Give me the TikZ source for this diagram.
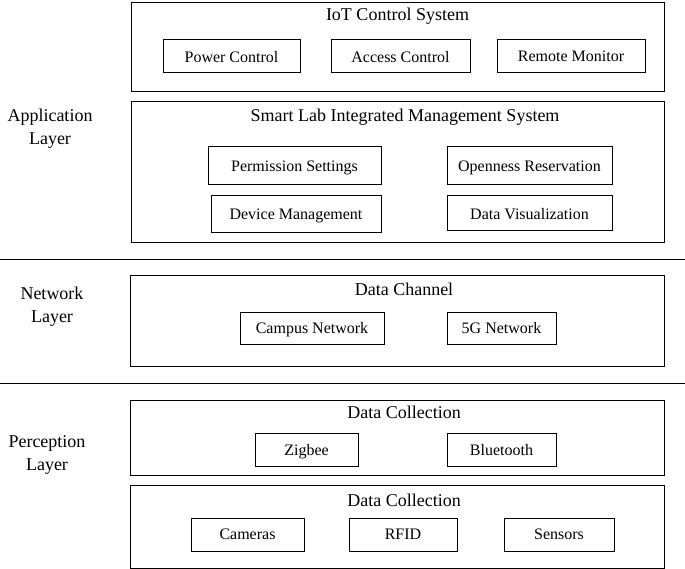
\documentclass[tikz,border=0pt]{standalone}
\usepackage{fontspec}
\setmainfont{Liberation Serif}
\usetikzlibrary{positioning}

\tikzset{
  frame/.style = {draw, line width=1pt, inner sep=0pt},
  item/.style = {draw, line width=1pt, inner sep=0pt, text depth=0pt, font=\fontsize{16}{18}\selectfont},
  title/.style = {inner sep=0pt, font=\fontsize{18}{20}\selectfont},
  layer/.style = {inner sep=0pt, align=center, font=\fontsize{18}{23}\selectfont}
}

\begin{document}
\begin{tikzpicture}[x = 1pt, y = -1pt]
    \useasboundingbox (0, 0) rectangle (685, 569);
    % application layer
    \node[frame, minimum width=533, minimum height=89] (iot) at (397.5, 47.5) {};
    \node[title] (iott) at (397.5, 16) {IoT Control System};
    \node[item, minimum width=137, minimum height=33] (pc) at (231.5, 56.5) {Power Control};
    \node[item, minimum width=139, minimum height=33] (ac) at (400.5, 56.5) {Access Control};
    \node[item, minimum width=148, minimum height=33] (rm) at (571, 56.5) {Remote Monitor};
    \node[frame, minimum width=533, minimum height=141] (slim) at (397.5, 172.5) {};
    \node[title] (slimt) at (405, 117) {Smart Lab Integrated Management System};
    \node[item, minimum width=173, minimum height=38] (ps) at (294.5, 166) {Permission Settings};
    \node[item, minimum width=165, minimum height=38] (or) at (529.5, 166) {Openness Reservation};
    \node[item, minimum width=170, minimum height=37] (dm) at (296, 214.5) {Device Management};
    \node[item, minimum width=165, minimum height=35] (dv) at (529.5, 213.5) {Data Visualization};
    \node[layer] (app) at (50, 129) {Application\\Layer};
    \draw[line width=1pt] (0, 260) -- (685, 260);
    % network layer
    \node[frame, minimum width=534, minimum height=90] (dc) at (397, 321) {};
    \node[title] (dct) at (404, 289) {Data Channel};
    \node[item, minimum width=144, minimum height=32] (cn) at (312, 328) {Campus Network};
    \node[item, minimum width=109, minimum height=32] (fg) at (501.5, 328) {5G Network};
    \node[layer] (net) at (52, 307) {Network\\Layer};
    \draw[line width=1pt] (0, 383) -- (685, 383);
    % perception layer
    \node[frame, minimum width=534, minimum height=75] (col1) at (397, 437.5) {};
    \node[title] (col1t) at (404, 412) {Data Collection};
    \node[item, minimum width=103, minimum height=33] (zb) at (306.5, 449.5) {Zigbee};
    \node[item, minimum width=109, minimum height=33] (bt) at (501.5, 449.5) {Bluetooth};
    \node[frame, minimum width=534, minimum height=83] (col2) at (397, 526.5) {};
    \node[title] (col2t) at (404, 500) {Data Collection};
    \node[item, minimum width=113, minimum height=33] (cam) at (247.5, 534.5) {Cameras};
    \node[item, minimum width=108, minimum height=33] (rfid) at (403, 534.5) {RFID};
    \node[item, minimum width=110, minimum height=33] (sen) at (559, 534.5) {Sensors};
    \node[layer] (per) at (47, 455) {Perception\\Layer};
\end{tikzpicture}
\end{document}
